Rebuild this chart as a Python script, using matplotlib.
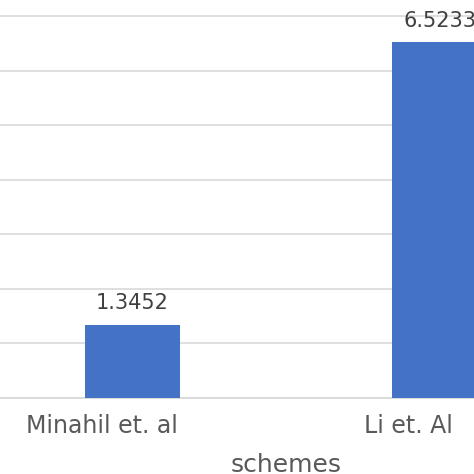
import matplotlib.pyplot as plt
import matplotlib.transforms as mtransforms

# --------------------
# Data
# --------------------
schemes = ["Minahil et. al", "Li et. Al"]
values = [1.3452, 6.5233]
value_labels = ["1.3452", "6.5233"]

BAR_COLOR = "#4472C4"
GRID_COLOR = "#D9D9D9"

fig = plt.figure(figsize=(4.74, 4.74), dpi=100)
# the picture is a crop of a wider Excel chart, so the axes fill the width
ax = fig.add_axes([0.0, 0.1603, 1.0, 0.8059])

x = list(range(len(schemes)))
ax.bar(x, values, width=0.31, color=BAR_COLOR, zorder=3)

ax.set_xlim(-0.432, 1.112)
ax.set_ylim(0, 7)
ax.set_yticks(range(0, 8))
ax.yaxis.grid(True, color=GRID_COLOR, linewidth=1.2, zorder=0, clip_on=False)
ax.tick_params(axis="y", left=False, labelleft=False)
ax.tick_params(axis="x", bottom=False, pad=8)

for s in ["top", "right", "left"]:
    ax.spines[s].set_visible(False)
ax.spines["bottom"].set_color(GRID_COLOR)
ax.spines["bottom"].set_linewidth(1.2)

ax.set_xticks(x)
ax.set_xticklabels(schemes, fontsize=17, color="#595959")
# category labels sit a bit left of the bar centres in the original
shift = mtransforms.ScaledTranslation(-31 / 100, 0, fig.dpi_scale_trans)
for lbl in ax.get_xticklabels():
    lbl.set_transform(lbl.get_transform() + shift)

for xi, v, txt in zip(x, values, value_labels):
    ax.annotate(txt, (xi, v), xytext=(0, 8), textcoords="offset points",
                ha="center", va="bottom", fontsize=15, color="#404040")

ax.set_xlabel("schemes", fontsize=18, color="#595959")
ax.xaxis.label.set_va("center")
ax.xaxis.set_label_coords(286 / 474, -67 / 382)

fig.savefig("out.png", dpi=100)
